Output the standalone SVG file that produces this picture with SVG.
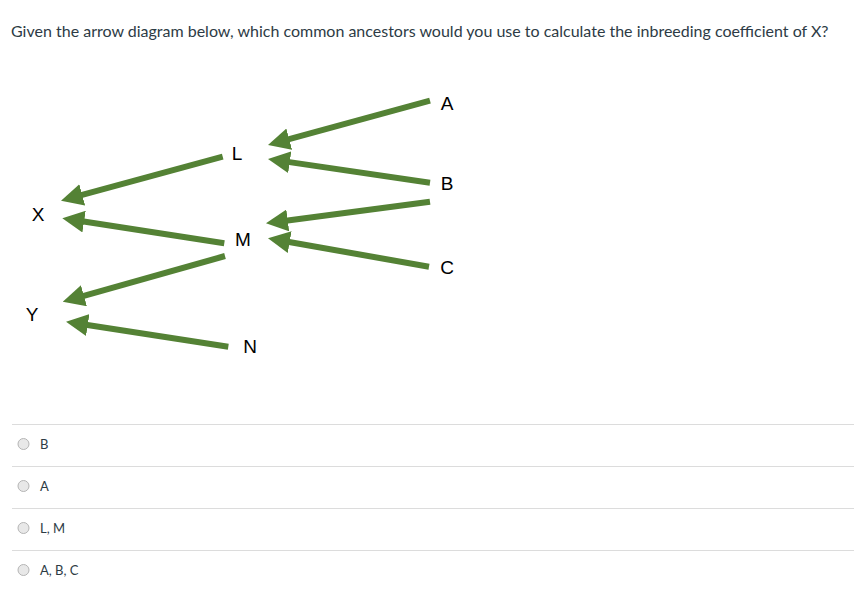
<svg xmlns="http://www.w3.org/2000/svg" width="854" height="591" viewBox="0 0 854 591">
<defs>
<style>
.q{font-family:Lato,"Liberation Sans",sans-serif;font-size:16px;fill:#2d3b45}
.lbl{font-family:"Liberation Sans",Arial,sans-serif;font-size:19px;fill:#000;text-anchor:middle}
.opt{font-family:Lato,"Liberation Sans",sans-serif;font-size:13px;fill:#2d3b45}
.sep{stroke:#dcdcdc;stroke-width:1}
.radio{fill:#e8e8e8;stroke:#b5b5b5;stroke-width:1}
.arr{stroke:#548235;stroke-width:6;fill:none;marker-end:url(#head)}
</style>
<marker id="head" markerUnits="userSpaceOnUse" markerWidth="22" markerHeight="22" viewBox="0 0 22 22" refX="2" refY="11" orient="auto">
<path d="M0,0 L22,11 L0,22 z" fill="#548235"/>
</marker>
</defs>
<rect width="854" height="591" fill="#fff"/>
<text class="q" x="11" y="37">Given the arrow diagram below, which common ancestors would you use to calculate the inbreeding coefficient of X?</text>
<g id="connectors">
<line class="arr" x1="430" y1="100.7" x2="287.3" y2="139.7"/>
<line class="arr" x1="430" y1="182.7" x2="287.8" y2="161.9"/>
<line class="arr" x1="430" y1="201.7" x2="285.8" y2="220.7"/>
<line class="arr" x1="429" y1="266.7" x2="287.7" y2="241.8"/>
<line class="arr" x1="222.7" y1="156.7" x2="80.3" y2="195.4"/>
<line class="arr" x1="224.3" y1="243.3" x2="82.1" y2="221.3"/>
<line class="arr" x1="225" y1="256" x2="82" y2="296.3"/>
<line class="arr" x1="228.3" y1="346.7" x2="85.8" y2="324.7"/>
</g>
<g id="node-A"><text class="lbl" x="447" y="110">A</text></g>
<g id="node-L"><text class="lbl" x="237" y="160">L</text></g>
<g id="node-B"><text class="lbl" x="447" y="190">B</text></g>
<g id="node-X"><text class="lbl" x="38" y="221">X</text></g>
<g id="node-M"><text class="lbl" x="243" y="246">M</text></g>
<g id="node-C"><text class="lbl" x="447" y="274">C</text></g>
<g id="node-Y"><text class="lbl" x="32" y="321">Y</text></g>
<g id="node-N"><text class="lbl" x="250" y="353">N</text></g>
<g id="options">
<line class="sep" x1="12" y1="424.5" x2="854" y2="424.5"/>
<line class="sep" x1="12" y1="466.5" x2="854" y2="466.5"/>
<line class="sep" x1="12" y1="508.5" x2="854" y2="508.5"/>
<line class="sep" x1="12" y1="550.5" x2="854" y2="550.5"/>
<circle class="radio" cx="23.5" cy="444" r="5.5"/>
<circle class="radio" cx="23.5" cy="486" r="5.5"/>
<circle class="radio" cx="23.5" cy="528" r="5.5"/>
<circle class="radio" cx="23.5" cy="570" r="5.5"/>
<text class="opt" x="40" y="449">B</text>
<text class="opt" x="40" y="491">A</text>
<text class="opt" x="40" y="533">L, M</text>
<text class="opt" x="40" y="575">A, B, C</text>
</g>
</svg>
